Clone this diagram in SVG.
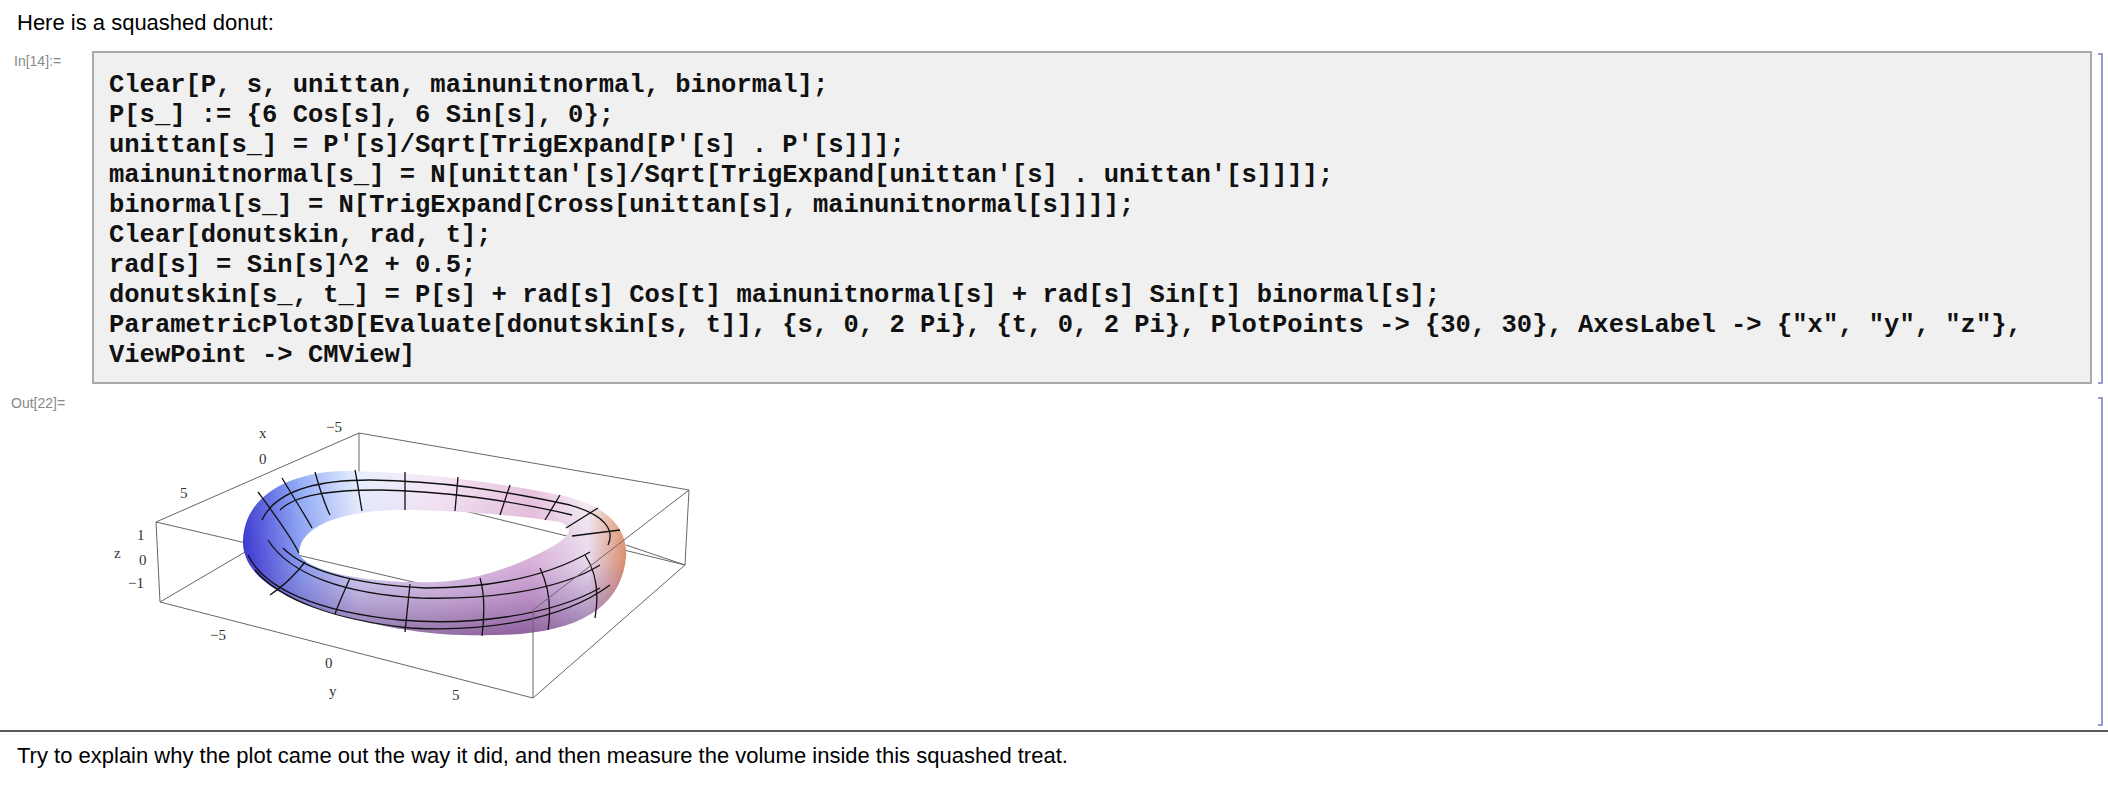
<svg xmlns="http://www.w3.org/2000/svg" width="2108" height="788" viewBox="0 0 2108 788">
<style>
.t{font-family:"Liberation Sans",Arial,sans-serif;font-size:22px;fill:#000}
.lb{font-family:"Liberation Sans",Arial,sans-serif;font-size:14px;fill:#888}
.c{font-family:"Liberation Mono","Courier New",monospace;font-size:25.5px;font-weight:bold;fill:#111;white-space:pre}
.ax{font-family:"Liberation Serif","Times New Roman",serif;font-size:15px;fill:#333}
.bx{stroke:#666;stroke-width:1;fill:none}
.grid{stroke:#111;stroke-width:1.3;fill:none}
</style>
<defs>
<linearGradient id="g1" x1="0" y1="0" x2="1" y2="0">
<stop offset="0" stop-color="#3030d0"/>
<stop offset="0.15" stop-color="#8aa8f8"/>
<stop offset="0.3" stop-color="#e6eeff"/>
<stop offset="0.5" stop-color="#f6e6f4"/>
<stop offset="0.75" stop-color="#e8c0dc"/>
<stop offset="0.9" stop-color="#f8f0f4"/>
<stop offset="1" stop-color="#e89860"/>
</linearGradient>
<linearGradient id="g2" x1="0" y1="0" x2="0" y2="1">
<stop offset="0" stop-color="#ffffff" stop-opacity="0.1"/>
<stop offset="0.55" stop-color="#8050c0" stop-opacity="0.15"/>
<stop offset="1" stop-color="#502070" stop-opacity="0.6"/>
</linearGradient>
</defs>
<rect width="2108" height="788" fill="#fff"/>
<text class="t" x="17" y="30">Here is a squashed donut:</text>
<text class="lb" x="14" y="66">In[14]:=</text>
<g id="input">
<rect x="93" y="52" width="1998" height="331" fill="#f0f0f0" stroke="#aaa" stroke-width="2"/>
<text class="c" x="109" y="92">Clear[P, s, unittan, mainunitnormal, binormal];</text>
<text class="c" x="109" y="122">P[s_] := {6 Cos[s], 6 Sin[s], 0};</text>
<text class="c" x="109" y="152">unittan[s_] = P'[s]/Sqrt[TrigExpand[P'[s] . P'[s]]];</text>
<text class="c" x="109" y="182">mainunitnormal[s_] = N[unittan'[s]/Sqrt[TrigExpand[unittan'[s] . unittan'[s]]]];</text>
<text class="c" x="109" y="212">binormal[s_] = N[TrigExpand[Cross[unittan[s], mainunitnormal[s]]]];</text>
<text class="c" x="109" y="242">Clear[donutskin, rad, t];</text>
<text class="c" x="109" y="272">rad[s] = Sin[s]^2 + 0.5;</text>
<text class="c" x="109" y="302">donutskin[s_, t_] = P[s] + rad[s] Cos[t] mainunitnormal[s] + rad[s] Sin[t] binormal[s];</text>
<text class="c" x="109" y="332">ParametricPlot3D[Evaluate[donutskin[s, t]], {s, 0, 2 Pi}, {t, 0, 2 Pi}, PlotPoints -&gt; {30, 30}, AxesLabel -&gt; {"x", "y", "z"},</text>
<text class="c" x="109" y="362">ViewPoint -&gt; CMView]</text>
</g>
<g id="brackets" stroke="#7080c0" stroke-width="1.5" fill="none">
<path d="M2098 54 L2102 54 L2102 383 L2098 383"/>
<path d="M2098 398 L2102 398 L2102 725 L2098 725"/>
</g>
<text class="lb" x="11" y="408">Out[22]=</text>
<g id="plot">
<g class="bx">
<path d="M359 485 L160 602 M359 485 L685 565 M359 433 L359 485"/>
<path d="M156 522 L533 610"/>
</g>
<g id="torus">
<path fill-rule="evenodd" fill="url(#g1)" d="M243 540 C245 495 290 472 345 471 C420 472 480 480 560 495 C610 506 628 530 626 557 C622 600 590 628 520 634 C460 638 400 634 330 612 C270 594 242 570 243 540 Z M299 553 C300 528 335 511 400 510 C460 510 520 516 560 522 C575 528 570 535 555 545 C520 565 480 580 437 582 C370 584 305 572 299 553 Z"/>
<path fill-rule="evenodd" fill="url(#g2)" d="M243 540 C245 495 290 472 345 471 C420 472 480 480 560 495 C610 506 628 530 626 557 C622 600 590 628 520 634 C460 638 400 634 330 612 C270 594 242 570 243 540 Z M299 553 C300 528 335 511 400 510 C460 510 520 516 560 522 C575 528 570 535 555 545 C520 565 480 580 437 582 C370 584 305 572 299 553 Z"/>
<g class="grid">
<path d="M262 520 C275 492 315 480 370 480 C440 481 500 490 570 505 C605 515 615 530 608 545"/>
<path d="M280 510 C295 495 330 490 380 490 C440 491 510 500 572 515"/>
<path d="M248 555 C265 590 320 612 400 620 C470 626 550 616 600 588"/>
<path d="M255 570 C280 600 335 620 410 628 C480 632 560 622 610 585"/>
<path d="M268 540 C290 575 345 594 420 598 C490 600 560 590 600 565"/>
<path d="M283 548 C305 570 350 584 425 588 C495 588 550 575 590 552"/>
<path d="M258 492 C275 515 290 535 299 553 M282 478 C295 500 305 515 312 528 M315 472 C320 490 325 505 330 515 M355 470 C358 485 360 500 362 511 M405 472 L405 510 M458 477 L455 511 M510 485 L500 515 M560 495 L545 520 M598 508 L566 528 M620 530 L572 536"/>
<path d="M585 555 C595 570 600 590 595 618 M540 568 C548 585 552 605 548 630 M480 578 C485 595 485 612 482 636 M410 584 L405 632 M350 578 C345 590 340 600 335 614 M305 562 C295 575 285 585 270 595"/>
</g>
</g>
<g class="bx">
<path d="M156 522 L359 433 L689 490 L533 610 M533 610 L533 698 M156 522 L160 602 L533 698 L685 565 L689 490"/>
<path d="M626 545 L685 565"/>
</g>
<text class="ax" x="259" y="438">x</text>
<text class="ax" x="326" y="432">−5</text>
<text class="ax" x="259" y="464">0</text>
<text class="ax" x="180" y="498">5</text>
<text class="ax" x="137" y="540">1</text>
<text class="ax" x="114" y="558">z</text>
<text class="ax" x="139" y="565">0</text>
<text class="ax" x="128" y="588">−1</text>
<text class="ax" x="210" y="640">−5</text>
<text class="ax" x="325" y="668">0</text>
<text class="ax" x="329" y="696">y</text>
<text class="ax" x="452" y="700">5</text>
</g>
<line x1="0" y1="731" x2="2108" y2="731" stroke="#222" stroke-width="1.5"/>
<text class="t" x="17" y="763">Try to explain why the plot came out the way it did, and then measure the volume inside this squashed treat.</text>
</svg>
